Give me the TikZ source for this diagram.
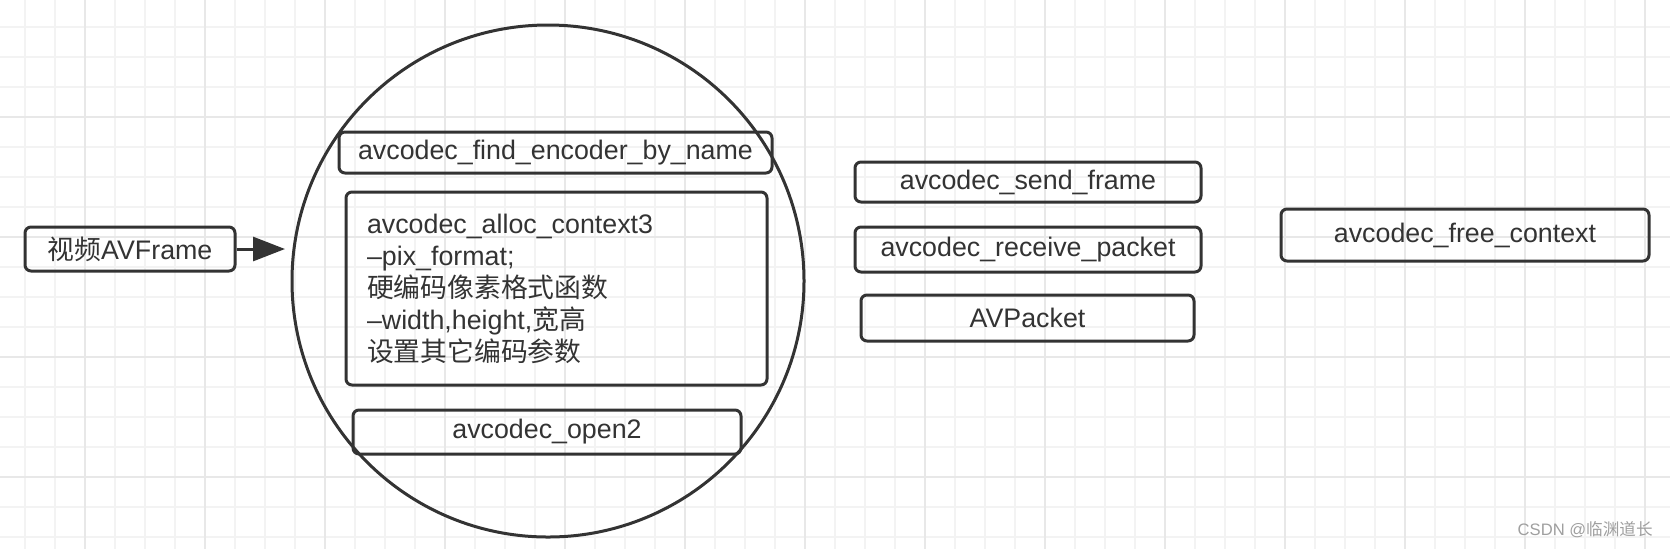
\documentclass[tikz,border=0pt]{standalone}
\usepackage{fontspec}
\setmainfont{Liberation Sans}
\newfontfamily\cjk{Noto Sans CJK SC}
\usetikzlibrary{arrows.meta}
\definecolor{ink}{HTML}{333333}
\definecolor{gridlight}{HTML}{F3F3F3}
\definecolor{griddark}{HTML}{E8E8E8}
\tikzset{
  fnbox/.style={draw=ink, line width=1.5pt, rounded corners=3pt, text=ink,
    font=\fontsize{13.4}{16}\selectfont, inner sep=0pt},
}

\begin{document}
\begin{tikzpicture}[x=0.5pt, y=-0.5pt]
    \useasboundingbox (0,0) rectangle (1670,548);

    % grid
    \begin{scope}[shift={(25,27)}]
        \draw[gridlight, line width=0.7pt] (-30,-30) grid[step=15pt] (1650,525);
    \end{scope}
    \begin{scope}[shift={(85,117)}]
        \draw[griddark, line width=0.9pt] (-90,-120) grid[step=60pt] (1590,435);
    \end{scope}

    % encoder context
    \node[draw=ink, line width=1.5pt, circle, minimum size=256pt, inner sep=0pt] (enc) at (548,281) {};

    % input
    \node[fnbox, minimum width=105pt, minimum height=22pt] (frame) at (130,249) {{\cjk 视频}AVFrame};
    \coordinate (tip) at (285,249);
    \draw[ink, line width=1.5pt, -{Triangle[length=16pt,width=12pt]}] (frame) -- (tip);

    % setup calls
    \node[fnbox, minimum width=216.5pt, minimum height=20.5pt] (find) at (555.5,152.5) {avcodec\_find\_encoder\_by\_name};
    \node[fnbox, minimum width=210.5pt, minimum height=96.5pt, text width=189.5pt, align=left, inner xsep=10.5pt] (alloc) at (556.5,288.5)
        {avcodec\_alloc\_context3\\--pix\_format;\\{\cjk 硬编码像素格式函数}\\--width,height,{\cjk 宽高}\\{\cjk 设置其它编码参数}};
    \node[fnbox, minimum width=194pt, minimum height=22pt] (open) at (547,432) {avcodec\_open2};

    % encode calls
    \node[fnbox, minimum width=173pt, minimum height=20pt] (send) at (1028,182) {avcodec\_send\_frame};
    \node[fnbox, minimum width=173pt, minimum height=22.5pt] (recv) at (1028,249.5) {avcodec\_receive\_packet};
    \node[fnbox, minimum width=166.5pt, minimum height=23pt] (pkt) at (1027.5,318) {AVPacket};

    % cleanup
    \node[fnbox, minimum width=184pt, minimum height=26pt] (free) at (1465,235) {avcodec\_free\_context};

    % watermark
    \node[anchor=east, text=gray!75, font=\fontsize{8.3}{10}\selectfont, inner sep=0pt] (mark) at (1653,530) {CSDN @{\cjk 临渊道长}};
\end{tikzpicture}
\end{document}
